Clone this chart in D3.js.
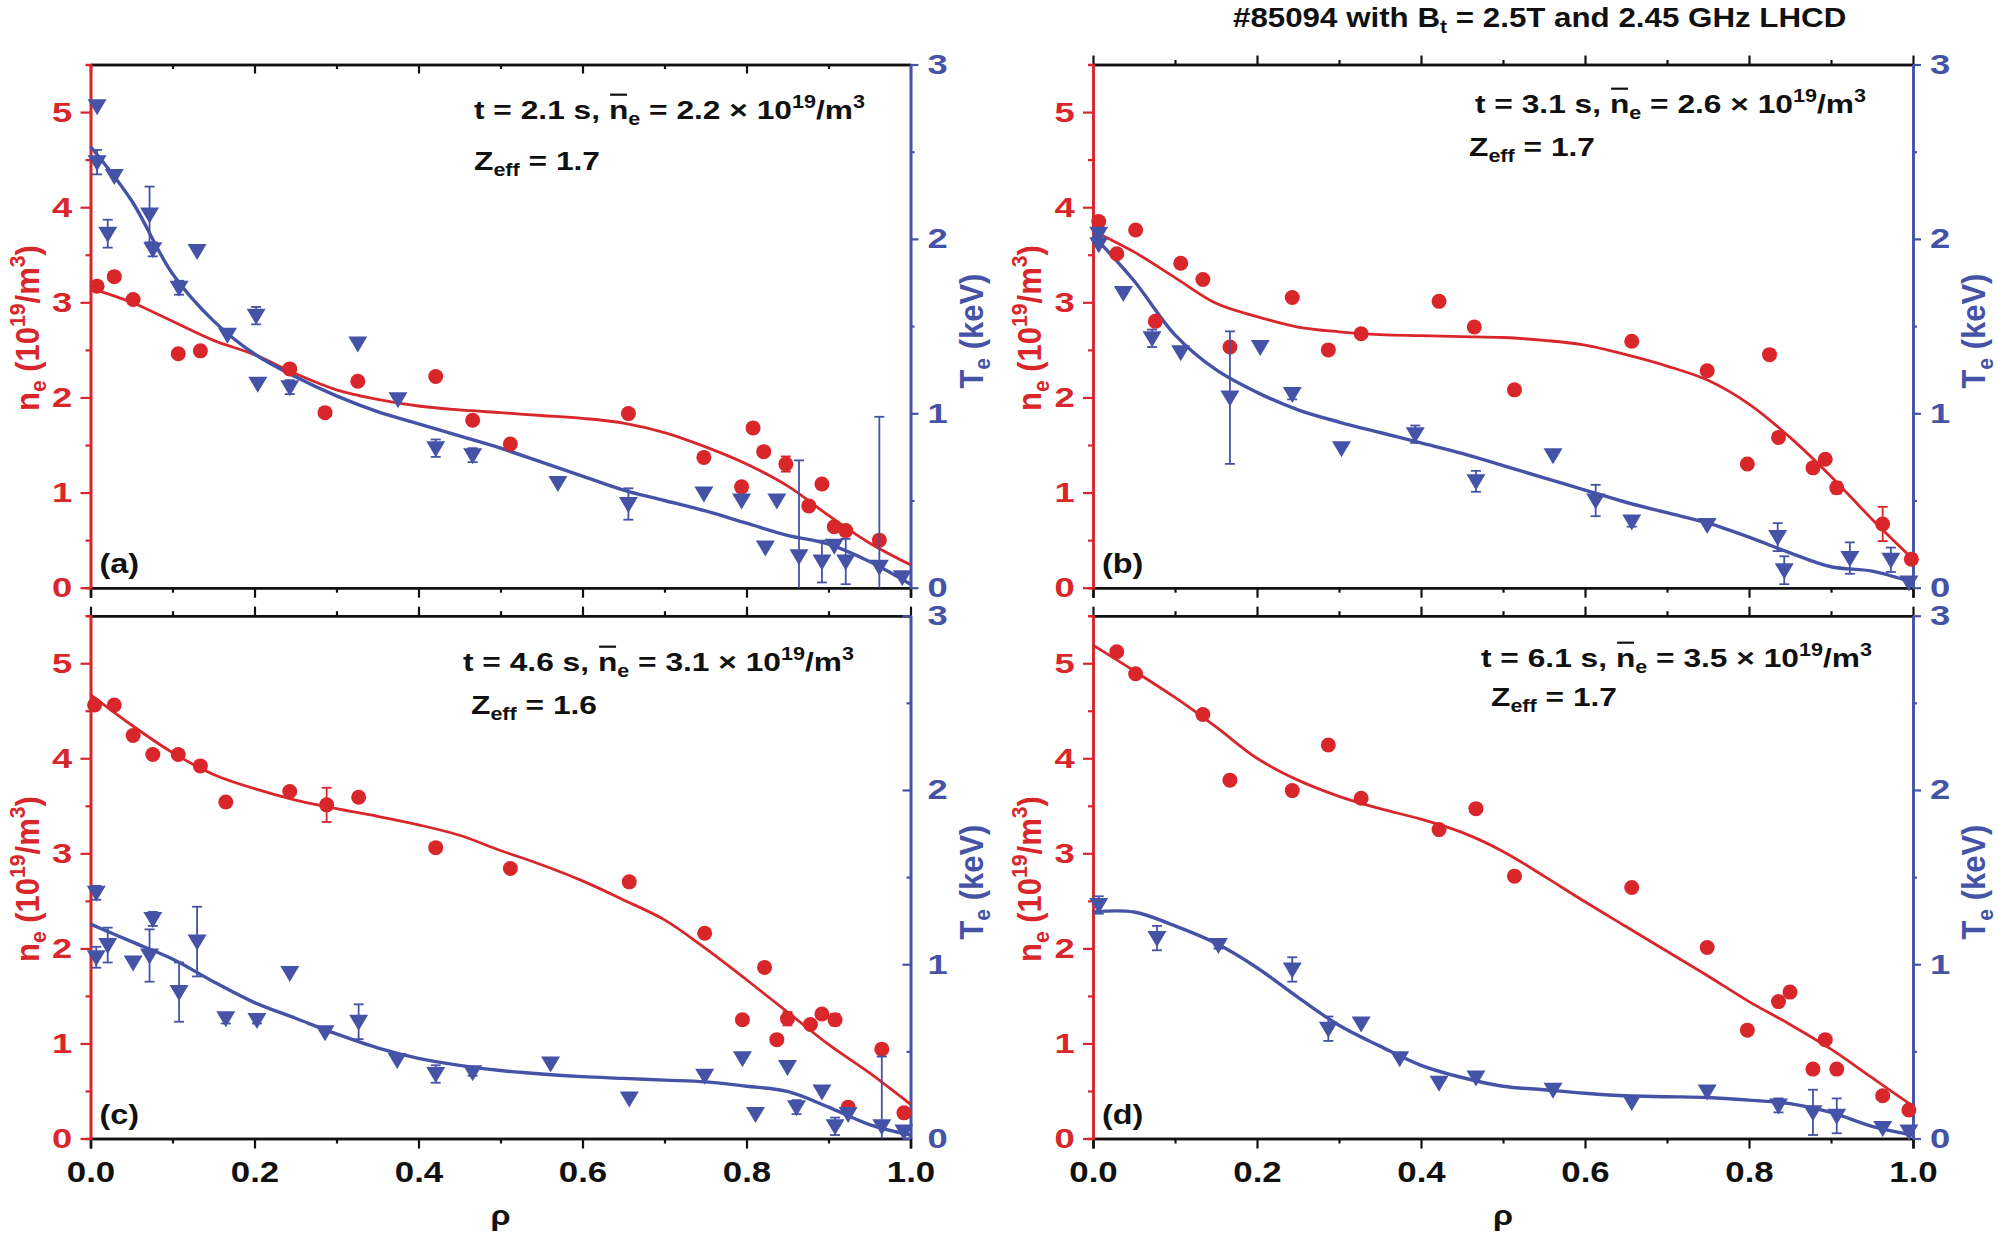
<!DOCTYPE html>
<html>
<head>
<meta charset="utf-8">
<script src="https://cdn.jsdelivr.net/npm/d3@7"></script>
<style>
  body { margin: 0; background: #fff; }
  svg { display: block; }
  text { font-family: "Liberation Sans", Arial, sans-serif; font-weight: bold; }
</style>
</head>
<body>
<svg id="fig" width="1998" height="1239"></svg>
<script>
// grid used for the fitted profiles
let fit_rho = [0,0.05,0.1,0.15,0.2,0.25,0.3,0.35,0.4,0.45,0.5,0.55,0.6,0.65,0.7,0.75,0.8,0.85,0.9,0.95,1.0]

// (a) t = 2.1 s
let a_ne_rho = [0.008,0.029,0.052,0.107,0.134,0.243,0.286,0.326,0.421,0.466,0.512,0.656,0.748,0.794,0.808,0.821,0.848,0.876,0.892,0.907,0.921,0.962]
let a_ne = [3.17,3.27,3.03,2.46,2.49,2.30,1.84,2.17,2.22,1.76,1.51,1.83,1.37,1.06,1.68,1.43,1.30,0.86,1.09,0.64,0.60,0.50]
let a_ne_err = [0,0,0,0,0,0,0,0,0,0,0,0,0,0,0,0,0.08,0,0,0,0.05,0]
let a_te_rho = [0.008,0.008,0.029,0.021,0.072,0.076,0.130,0.108,0.167,0.202,0.204,0.243,0.326,0.375,0.421,0.466,0.570,0.656,0.748,0.794,0.837,0.823,0.864,0.892,0.907,0.921,0.962,0.990]
let a_te = [2.76,2.44,2.36,2.03,2.14,1.94,1.93,1.72,1.45,1.56,1.17,1.15,1.40,1.08,0.80,0.76,0.60,0.48,0.54,0.50,0.50,0.23,0.18,0.15,0.24,0.15,0.12,0.06]
let a_te_err = [0,0.07,0,0.08,0.16,0.04,0,0.04,0,0.05,0,0.04,0,0,0.05,0.04,0,0.09,0,0,0,0,0.55,0.12,0,0.13,0.86,0]
let a_ne_fit = [3.15,3.00,2.80,2.60,2.45,2.25,2.08,1.98,1.91,1.87,1.84,1.81,1.78,1.73,1.63,1.48,1.30,1.07,0.76,0.47,0.24]
let a_te_fit = [2.53,2.22,1.80,1.53,1.34,1.21,1.10,1.01,0.94,0.87,0.80,0.72,0.64,0.56,0.50,0.44,0.37,0.30,0.25,0.15,0.02]

// (b) t = 3.1 s
let b_ne_rho = [0.007,0.029,0.052,0.107,0.134,0.076,0.167,0.243,0.287,0.327,0.422,0.465,0.514,0.657,0.749,0.798,0.825,0.836,0.878,0.893,0.907,0.963,0.998]
let b_ne = [3.85,3.51,3.76,3.41,3.24,2.80,2.53,3.05,2.50,2.67,3.01,2.74,2.08,2.59,2.28,1.30,2.45,1.58,1.26,1.35,1.05,0.67,0.30]
let b_ne_err = [0,0,0,0,0,0,0,0,0,0,0,0.05,0,0,0,0,0.04,0,0,0,0.06,0.18,0]
let b_te_rho = [0.007,0.007,0.037,0.072,0.107,0.167,0.204,0.243,0.303,0.393,0.467,0.561,0.613,0.657,0.749,0.835,0.843,0.923,0.973,0.995]
let b_te = [2.03,1.97,1.69,1.43,1.35,1.09,1.38,1.11,0.80,0.88,0.61,0.76,0.50,0.38,0.36,0.29,0.10,0.17,0.16,0.03]
let b_te_err = [0.03,0,0,0.05,0,0.38,0,0.03,0,0.05,0.06,0,0.09,0.03,0,0.08,0.08,0.09,0.07,0]
let b_ne_fit = [3.75,3.53,3.26,2.99,2.85,2.74,2.69,2.66,2.65,2.64,2.63,2.60,2.55,2.45,2.33,2.18,1.93,1.58,1.17,0.72,0.30]
let b_te_fit = [2.02,1.76,1.45,1.25,1.12,1.02,0.95,0.89,0.83,0.77,0.70,0.63,0.56,0.49,0.43,0.37,0.29,0.20,0.12,0.095,0.03]

// (c) t = 4.6 s
let c_ne_rho = [0.005,0.029,0.052,0.076,0.107,0.134,0.165,0.243,0.288,0.327,0.421,0.512,0.657,0.749,0.822,0.795,0.837,0.850,0.878,0.892,0.908,0.924,0.965,0.992]
let c_ne = [4.56,4.56,4.24,4.04,4.04,3.92,3.54,3.65,3.51,3.59,3.06,2.84,2.70,2.16,1.80,1.25,1.04,1.26,1.20,1.31,1.25,0.33,0.94,0.27]
let c_ne_err = [0,0,0,0,0,0,0,0,0.18,0,0,0,0,0,0,0,0,0.07,0,0,0.06,0,0,0]
let c_te_rho = [0.007,0.007,0.021,0.052,0.072,0.076,0.108,0.130,0.165,0.203,0.243,0.286,0.327,0.374,0.421,0.466,0.561,0.657,0.749,0.795,0.811,0.850,0.861,0.892,0.908,0.924,0.965,0.992]
let c_te = [1.41,1.04,1.11,1.01,1.05,1.26,0.84,1.13,0.69,0.68,0.95,0.61,0.67,0.45,0.37,0.38,0.43,0.23,0.36,0.46,0.14,0.41,0.18,0.27,0.07,0.14,0.07,0.04]
let c_te_err = [0.04,0.06,0.10,0,0.15,0.04,0.17,0.20,0.03,0.02,0,0,0.10,0,0.05,0.02,0,0,0,0,0,0,0.04,0,0.05,0,0.40,0]
let c_ne_fit = [4.67,4.35,4.06,3.83,3.68,3.56,3.47,3.39,3.30,3.19,3.03,2.88,2.71,2.51,2.30,2.00,1.67,1.33,0.99,0.69,0.36]
let c_te_fit = [1.23,1.13,1.03,0.90,0.78,0.69,0.60,0.52,0.46,0.42,0.39,0.37,0.355,0.345,0.335,0.325,0.30,0.27,0.18,0.08,0.02]

// (d) t = 6.1 s
let d_ne_rho = [0.029,0.052,0.134,0.167,0.243,0.287,0.327,0.422,0.467,0.514,0.657,0.749,0.798,0.836,0.850,0.878,0.893,0.907,0.963,0.995]
let d_ne = [5.12,4.89,4.46,3.77,3.66,4.14,3.58,3.25,3.47,2.76,2.64,2.01,1.14,1.44,1.54,0.73,1.04,0.73,0.45,0.30]
let d_ne_err = [0,0,0,0,0,0,0,0,0,0,0,0,0,0,0,0,0,0,0,0]
let d_te_rho = [0.007,0.078,0.153,0.243,0.287,0.327,0.374,0.422,0.467,0.561,0.657,0.749,0.836,0.878,0.907,0.963,0.995]
let d_te = [1.34,1.15,1.11,0.97,0.63,0.66,0.46,0.32,0.35,0.28,0.21,0.27,0.19,0.15,0.13,0.06,0.04]
let d_te_err = [0.05,0.07,0.02,0.07,0.07,0,0,0,0,0,0,0,0.04,0.13,0.10,0,0]
let d_ne_fit = [5.19,4.92,4.64,4.33,4.00,3.77,3.60,3.47,3.36,3.22,3.02,2.76,2.49,2.23,1.97,1.71,1.44,1.20,0.94,0.64,0.34]
let d_te_fit = [1.30,1.30,1.22,1.12,0.98,0.81,0.65,0.53,0.42,0.35,0.30,0.28,0.26,0.245,0.24,0.235,0.22,0.20,0.15,0.07,0.02]

let x_ticks = [0, 0.2, 0.4, 0.6, 0.8, 1.0]
let ne_ticks = [0, 1, 2, 3, 4, 5]
let te_ticks = [0, 1, 2, 3]

let red = "#d8262b"
let blue = "#4453a6"
let SX = 1.2   // the figure text is a bit wider than the font

let svg = d3.select("#fig")

// helper: text built from pieces, with sub / sup / overline
function rich(g, parts, fs, color) {
    let t = g.append("text").attr("font-size", fs).attr("fill", color)
    let shift = 0, idx = 0, over = []
    parts.forEach(p => {
        let s = typeof p === "string" ? {t: p} : p
        let want = s.sub ? 0.24 * fs : s.sup ? -0.42 * fs : 0
        let ts = t.append("tspan").text(s.t).attr("dy", want - shift)
        if (s.sub || s.sup) ts.attr("font-size", fs * 0.68)
        shift = want
        if (s.over) over.push(idx)
        idx += s.t.length
    })
    over.forEach(i => {
        let r = t.node().getExtentOfChar(i)
        g.append("line").attr("x1", r.x + 1).attr("x2", r.x + r.width - 1)
            .attr("y1", r.y - 1).attr("y2", r.y - 1)
            .attr("stroke", color).attr("stroke-width", 2.2)
    })
    return t
}

function label(x, y, parts, fs, color, anchor, rot, sx) {
    let g = svg.append("g")
        .attr("transform", `translate(${x},${y}) scale(${sx || SX},1)` + (rot ? ` rotate(${rot})` : ""))
    let t = rich(g, parts, fs, color)
    t.attr("text-anchor", anchor || "start")
    return g
}

let triangle = "M-9.5,-7L9.5,-7L0,9Z"

function drawPanel(p) {
    let x = d3.scaleLinear().domain([0, 1]).range([p.x0, p.x1])
    let yNe = d3.scaleLinear().domain([0, 5.5]).range([p.y1, p.y0])
    let yTe = d3.scaleLinear().domain([0, 3]).range([p.y1, p.y0])
    let g = svg.append("g")

    // top and bottom black axes
    let top = g.append("g").attr("transform", `translate(0,${p.y0})`)
    top.call(d3.axisTop(x).tickValues(x_ticks).tickSizeInner(p.topIn ? -9 : 9).tickSizeOuter(0).tickFormat(""))
    top.append("g").call(d3.axisTop(x).tickValues([0.1,0.3,0.5,0.7,0.9]).tickSizeInner(p.topIn ? -4.5 : 4.5).tickSizeOuter(0).tickFormat(""))
    let bot = g.append("g").attr("transform", `translate(0,${p.y1})`)
    bot.call(d3.axisBottom(x).tickValues(x_ticks).tickSize(10).tickPadding(13)
        .tickFormat(p.xlab ? d3.format(".1f") : ""))
    bot.append("g").call(d3.axisBottom(x).tickValues([0.1,0.3,0.5,0.7,0.9]).tickSizeInner(5).tickSizeOuter(0).tickFormat(""))
    ;[top, bot].forEach(a => {
        a.selectAll("path.domain").attr("stroke", "#111").attr("stroke-width", 2.6)
        a.selectAll("line").attr("stroke", "#111").attr("stroke-width", 2.2)
    })
    bot.selectAll(".tick text").attr("font-size", 29).attr("fill", "#111")
        .attr("transform", `scale(${SX},1)`).attr("font-family", null)

    // left red axis
    let left = g.append("g").attr("transform", `translate(${p.x0},0)`)
    left.call(d3.axisLeft(yNe).tickValues(ne_ticks).tickSize(10).tickPadding(4).tickSizeOuter(0).tickFormat(d3.format("d")))
    left.append("g").call(d3.axisLeft(yNe).tickValues([0.5,1.5,2.5,3.5,4.5]).tickSize(5).tickFormat(""))
    left.selectAll("path.domain").attr("stroke", red).attr("stroke-width", 2.6)
    left.selectAll("line").attr("stroke", red).attr("stroke-width", 2.2)
    left.selectAll(".tick text").attr("font-size", 28).attr("fill", red)
        .attr("transform", `scale(1.3,1)`).attr("font-family", null)

    // right blue axis
    let right = g.append("g").attr("transform", `translate(${p.x1},0)`)
    let rs = p.rightIn ? -8 : 8
    right.call(d3.axisRight(yTe).tickValues(te_ticks).tickSizeInner(rs).tickSizeOuter(0).tickPadding(p.rightIn ? 13 : 5).tickFormat(d3.format("d")))
    right.append("g").call(d3.axisRight(yTe).tickValues([0.5,1.5,2.5]).tickSizeInner(rs / 2).tickSizeOuter(0).tickFormat(""))
    right.selectAll("path.domain").attr("stroke", blue).attr("stroke-width", 2.6)
    right.selectAll("line").attr("stroke", blue).attr("stroke-width", 2.2)
    right.selectAll(".tick text").attr("font-size", 28).attr("fill", blue)
        .attr("transform", `scale(1.3,1)`).attr("font-family", null)

    // fitted profiles
    let lineNe = d3.line().x((d, i) => x(fit_rho[i])).y(d => yNe(d)).curve(d3.curveCatmullRom.alpha(0.5))
    let lineTe = d3.line().x((d, i) => x(fit_rho[i])).y(d => yTe(d)).curve(d3.curveCatmullRom.alpha(0.5))
    g.append("path").attr("d", lineNe(p.neFit)).attr("fill", "none").attr("stroke", red).attr("stroke-width", 2.8)
    g.append("path").attr("d", lineTe(p.teFit)).attr("fill", "none").attr("stroke", blue).attr("stroke-width", 3.4)

    // error bars
    function errBars(rho, val, err, y, color) {
        let eg = g.append("g").attr("stroke", color).attr("stroke-width", 1.8)
        rho.forEach((r, i) => {
            if (!err[i]) return
            let lo = Math.max(0, val[i] - err[i]), hi = val[i] + err[i]
            let cx = x(r)
            eg.append("line").attr("x1", cx).attr("x2", cx).attr("y1", y(lo)).attr("y2", y(hi))
            eg.append("line").attr("x1", cx - 5).attr("x2", cx + 5).attr("y1", y(hi)).attr("y2", y(hi))
            if (val[i] - err[i] > 0)
                eg.append("line").attr("x1", cx - 5).attr("x2", cx + 5).attr("y1", y(lo)).attr("y2", y(lo))
        })
    }
    errBars(p.neRho, p.ne, p.neErr, yNe, red)
    g.selectAll(null).data(p.ne).enter().append("circle")
        .attr("cx", (d, i) => x(p.neRho[i])).attr("cy", d => yNe(d))
        .attr("r", 7.5).attr("fill", red)
    errBars(p.teRho, p.te, p.teErr, yTe, blue)
    g.selectAll(null).data(p.te).enter().append("path")
        .attr("d", triangle)
        .attr("transform", (d, i) => `translate(${x(p.teRho[i])},${yTe(d)})`)
        .attr("fill", blue)

    // axis titles (rotated, baseline sits to the right of the visual centre)
    let yc = (p.y0 + p.y1) / 2
    label(p.x0 - 52, yc + 2, ["n", {t: "e", sub: 1}, " (10", {t: "19", sup: 1}, "/m", {t: "3", sup: 1}, ")"], 31, red, "middle", -90, 1.05)
    label(p.x1 + 72, yc + 5, ["T", {t: "e", sub: 1}, " (keV)"], 31, blue, "middle", -90, 1.05)

    // annotations
    label(p.t1[0], p.t1[1], ["t = " + p.t + " s, ", {t: "n", over: 1}, {t: "e", sub: 1},
        " = " + p.nbar + " \u00d7 10", {t: "19", sup: 1}, "/m", {t: "3", sup: 1}], 26, "#111", "start", 0, 1.22)
    label(p.t2[0], p.t2[1], ["Z", {t: "eff", sub: 1}, " = " + p.zeff], 26, "#111", "start", 0, 1.22)
    label(p.x0 + 9, p.y1 - 15, [p.tag], 27, "#111")
    if (p.xlab) label((p.x0 + p.x1) / 2, 1225, ["\u03c1"], 27, "#111", "middle")
}

let cols = [[90.5, 910.5], [1093, 1913]]
let rows = [[64.5, 587.7], [615.7, 1138.5]]

let panels = [
    {tag: "(a)", x0: cols[0][0], x1: cols[0][1], y0: rows[0][0], y1: rows[0][1], topIn: true,
     t: "2.1", nbar: "2.2", zeff: "1.7", t1: [474, 119], t2: [474, 170],
     neRho: a_ne_rho, ne: a_ne, neErr: a_ne_err, teRho: a_te_rho, te: a_te, teErr: a_te_err, neFit: a_ne_fit, teFit: a_te_fit},
    {tag: "(b)", x0: cols[1][0], x1: cols[1][1], y0: rows[0][0], y1: rows[0][1],
     t: "3.1", nbar: "2.6", zeff: "1.7", t1: [1475, 113], t2: [1469, 156],
     neRho: b_ne_rho, ne: b_ne, neErr: b_ne_err, teRho: b_te_rho, te: b_te, teErr: b_te_err, neFit: b_ne_fit, teFit: b_te_fit},
    {tag: "(c)", x0: cols[0][0], x1: cols[0][1], y0: rows[1][0], y1: rows[1][1], xlab: true, rightIn: true,
     t: "4.6", nbar: "3.1", zeff: "1.6", t1: [463, 671], t2: [471, 714],
     neRho: c_ne_rho, ne: c_ne, neErr: c_ne_err, teRho: c_te_rho, te: c_te, teErr: c_te_err, neFit: c_ne_fit, teFit: c_te_fit},
    {tag: "(d)", x0: cols[1][0], x1: cols[1][1], y0: rows[1][0], y1: rows[1][1], xlab: true,
     t: "6.1", nbar: "3.5", zeff: "1.7", t1: [1481, 667], t2: [1491, 706],
     neRho: d_ne_rho, ne: d_ne, neErr: d_ne_err, teRho: d_te_rho, te: d_te, teErr: d_te_err, neFit: d_ne_fit, teFit: d_te_fit}
]

panels.forEach(drawPanel)

label(1233, 27, ["#85094 with B", {t: "t", sub: 1}, " = 2.5T and 2.45 GHz LHCD"], 27, "#111", "start", 0, 1.16)
</script>
</body>
</html>
